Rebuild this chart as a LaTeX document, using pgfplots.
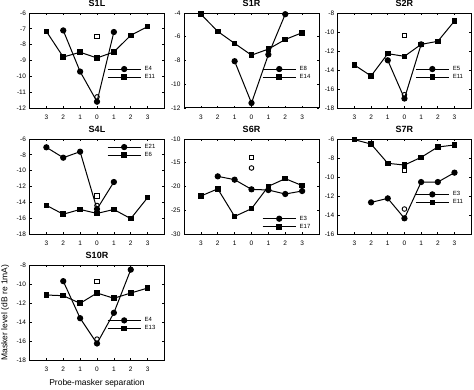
\documentclass[border=0pt]{standalone}
\usepackage{fontspec}
\setmainfont{Liberation Sans}
\usepackage{pgfplots}
\pgfplotsset{compat=1.18}
\pgfplotsset{
  /pgf/number format/assume math mode=true,
  panel/.style={
    scale only axis, width=135pt, height=95pt,
    xmin=-4, xmax=4, xtick={-3,-2,-1,0,1,2,3}, xticklabels={3,2,1,0,1,2,3},
    tick label style={font=\fontsize{6.5}{6.5}\selectfont},
    xticklabel style={yshift=-3.5pt},
    title style={font=\bfseries\fontsize{9}{10}\selectfont, yshift=-3.5pt},
    axis line style={line width=1pt},
    tick style={line width=0.7pt, black},
    major tick length=2pt,
    legend style={draw=none, fill=none, anchor=north west, inner sep=0pt,
      font=\fontsize{6}{6}\selectfont, row sep=1pt,
      nodes={inner sep=0.5pt, text height=4.5pt, text depth=1.5pt}},
    legend cell align=left,
    /tikz/every odd column/.append style={column sep=3pt},
    legend image code/.code={\draw[mark repeat=2,mark phase=2,##1] plot coordinates {(0pt,0pt) (16.5pt,0pt) (33pt,0pt)};},
    every axis plot/.append style={line width=1pt, black},
  },
  circ/.style={mark=*, mark size=2.6pt, mark options={solid, fill=black}},
  sq/.style={mark=square*, mark size=2.3pt, mark options={solid, fill=black}},
  ocirc/.style={only marks, mark=o, mark size=2.3pt, mark options={line width=0.9pt}, forget plot},
  osq/.style={only marks, mark=square, mark size=2.1pt, mark options={line width=0.9pt}, forget plot},
}
\begin{document}
\begin{tikzpicture}
\useasboundingbox (0,0) rectangle (474pt,-389pt);
% S1L
\begin{axis}[panel, at={(29.5pt,-13pt)}, anchor=north west, title={S1L},
  ymin=-12, ymax=-6, ytick={-12,-11,...,-6},
  legend style={at={(0.574,0.449)}}]
\addplot[circ] coordinates {(-2,-7.1) (-1,-9.7) (0,-11.6) (1,-7.2)};
\addlegendentry{E4}
\addplot[sq] coordinates {(-3,-7.16) (-2,-8.78) (-1,-8.48) (0,-8.84) (1,-8.46) (2,-7.41) (3,-6.86)};
\addlegendentry{E11}
\addplot[osq] coordinates {(0,-7.47)};
\addplot[ocirc] coordinates {(0,-11.3)};
\end{axis}
% S1R
\begin{axis}[panel, at={(184pt,-13pt)}, anchor=north west, title={S1R},
  ymin=-12, ymax=-4, ytick={-12,-10,...,-4},
  legend style={at={(0.578,0.449)}}]
\addplot[circ] coordinates {(-1,-8.06) (0,-11.58) (1,-7.5) (2,-4.1)};
\addlegendentry{E8}
\addplot[sq] coordinates {(-3,-4.1) (-2,-5.55) (-1,-6.56) (0,-7.55) (1,-7.04) (2,-6.23) (3,-5.66)};
\addlegendentry{E14}
\end{axis}
% S2R
\begin{axis}[panel, width=133.5pt, at={(337.7pt,-13pt)}, anchor=north west, title={S2R},
  ymin=-18, ymax=-8, ytick={-18,-16,...,-8},
  legend style={at={(0.58,0.449)}}]
\addplot[circ] coordinates {(-1,-12.98) (0,-17.0) (1,-11.3)};
\addlegendentry{E5}
\addplot[sq] coordinates {(-3,-13.47) (-2,-14.63) (-1,-12.28) (0,-12.56) (1,-11.3) (2,-10.98) (3,-8.84)};
\addlegendentry{E11}
\addplot[osq] coordinates {(0,-10.35)};
\addplot[ocirc] coordinates {(0,-16.6)};
\end{axis}
% S4L
\begin{axis}[panel, at={(29.5pt,-139pt)}, anchor=north west, title={S4L},
  ymin=-18, ymax=-6, ytick={-18,-16,...,-6},
  legend style={at={(0.574,0.954)}}]
\addplot[circ] coordinates {(-3,-7.05) (-2,-8.36) (-1,-7.6) (0,-14.85) (1,-11.43)};
\addlegendentry{E21}
\addplot[sq] coordinates {(-3,-14.38) (-2,-15.5) (-1,-14.9) (0,-15.4) (1,-14.9) (2,-16.06) (3,-13.4)};
\addlegendentry{E6}
\addplot[osq] coordinates {(0,-13.2)};
\addplot[ocirc] coordinates {(0,-14.4)};
\end{axis}
% S6R
\begin{axis}[panel, at={(184pt,-139pt)}, anchor=north west, title={S6R},
  ymin=-30, ymax=-10, ytick={-30,-25,...,-10},
  legend style={at={(0.578,0.2)}}]
\addplot[circ] coordinates {(-2,-17.86) (-1,-18.56) (0,-20.6) (1,-20.74) (2,-21.58) (3,-20.95)};
\addlegendentry{E3}
\addplot[sq] coordinates {(-3,-22.0) (-2,-20.5) (-1,-26.3) (0,-24.67) (1,-19.96) (2,-18.35) (3,-19.8)};
\addlegendentry{E17}
\addplot[osq] coordinates {(0,-13.86)};
\addplot[ocirc] coordinates {(0,-16.1)};
\end{axis}
% S7R
\begin{axis}[panel, width=133.5pt, at={(337.7pt,-139pt)}, anchor=north west, title={S7R},
  ymin=-16, ymax=-6, ytick={-16,-14,...,-6},
  legend style={at={(0.58,0.456)}}]
\addplot[circ] coordinates {(-2,-12.67) (-1,-12.25) (0,-14.35) (1,-10.53) (2,-10.53) (3,-9.54)};
\addlegendentry{E3}
\addplot[sq] coordinates {(-3,-6.07) (-2,-6.53) (-1,-8.56) (0,-8.74) (1,-7.93) (2,-6.84) (3,-6.63)};
\addlegendentry{E11}
\addplot[osq] coordinates {(0,-9.3)};
\addplot[ocirc] coordinates {(0,-13.37)};
\end{axis}
% S10R
\begin{axis}[panel, at={(29.5pt,-265pt)}, anchor=north west, title={S10R},
  ymin=-18, ymax=-8, ytick={-18,-16,...,-8},
  legend style={at={(0.574,0.456)}},
  ylabel={Masker level (dB re 1mA)},
  ylabel style={at={(axis description cs:-0.18,0.5)}, anchor=center, font=\fontsize{8.5}{9}\selectfont},
  xlabel={Probe-masker separation},
  xlabel style={at={(axis description cs:0.5,-0.24)}, anchor=center, font=\fontsize{8.5}{9}\selectfont}]
\addplot[circ] coordinates {(-2,-9.7) (-1,-13.6) (0,-16.26) (1,-13.03) (2,-8.49)};
\addlegendentry{E4}
\addplot[sq] coordinates {(-3,-11.16) (-2,-11.23) (-1,-12.03) (0,-10.95) (1,-11.5) (2,-10.95) (3,-10.43)};
\addlegendentry{E13}
\addplot[osq] coordinates {(0,-9.74)};
\addplot[ocirc] coordinates {(0,-15.8)};
\end{axis}
\end{tikzpicture}
\end{document}
